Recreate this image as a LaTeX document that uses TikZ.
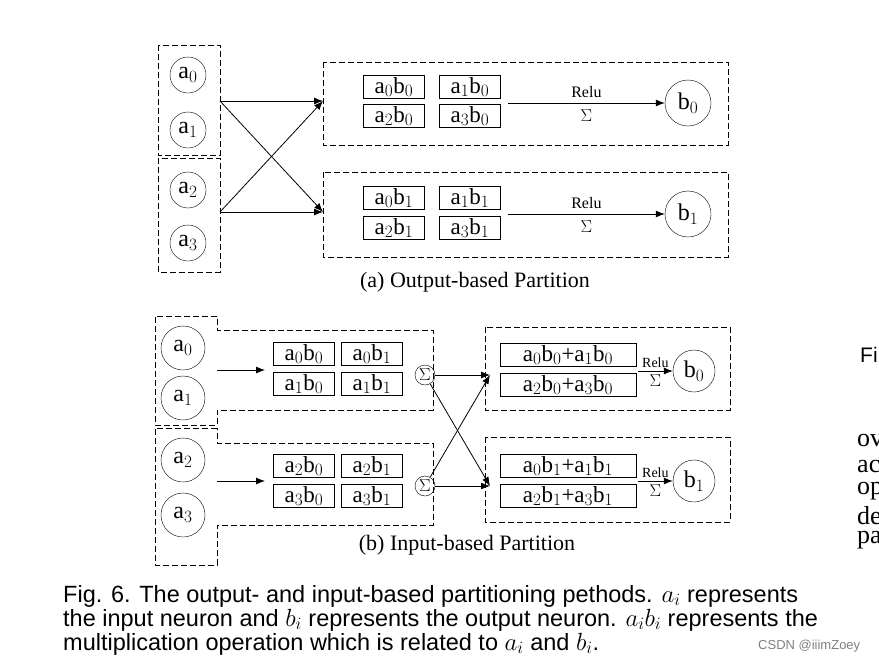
\documentclass[tikz,border=0pt]{standalone}
\usepackage{fontspec}
\setmainfont{Liberation Serif}
\newfontfamily\sansf{Liberation Sans}
\usetikzlibrary{arrows.meta}
\begin{document}
\begin{tikzpicture}[x=1pt,y=-1pt,
  neur/.style={draw,circle,minimum size=44pt,inner sep=0pt,font=\fontsize{24}{24}\selectfont},
  outn/.style={draw,circle,minimum size=48pt,inner sep=0pt,font=\fontsize{24}{24}\selectfont},
  prod/.style={draw,minimum width=61pt,minimum height=23pt,inner sep=0pt,font=\fontsize{23}{23}\selectfont},
  wprod/.style={draw,minimum width=136pt,minimum height=23pt,inner sep=0pt,font=\fontsize{23}{23}\selectfont},
  sig/.style={draw,circle,minimum size=20pt,inner sep=0pt,font=\fontsize{16}{16}\selectfont},
  dbox/.style={draw,dashed,line width=0.8pt,dash pattern=on 6pt off 3pt},
  arr/.style={-{Latex[length=9pt,width=7pt]},line width=0.8pt},
  lbl/.style={font=\fontsize{16}{16}\selectfont},
  figcap/.style={font=\fontsize{22}{22}\selectfont}]
\useasboundingbox (0,0) rectangle (879,664);
\clip (0,0) rectangle (879,664);
% (a)
\draw[dbox] (158,45) rectangle (220,155);
\draw[dbox] (158,158) rectangle (220,272);
\draw[dbox] (323,62) rectangle (728,145);
\draw[dbox] (323,172) rectangle (728,257);
\node[neur,minimum size=36pt] (a0) at (188,75) {a$_0$};
\node[neur,minimum size=36pt] (a1) at (188,130) {a$_1$};
\node[neur,minimum size=36pt] (a2) at (188,190) {a$_2$};
\node[neur,minimum size=36pt] (a3) at (188,243) {a$_3$};
\coordinate (la) at (220,101); \coordinate (lb) at (220,212);
\coordinate (ra) at (323,101); \coordinate (rb) at (323,212);
\draw[arr] (la) -- (ra); \draw[arr] (la) -- (rb);
\draw[arr] (lb) -- (ra); \draw[arr] (lb) -- (rb);
\node[prod] (p00) at (394,87) {a$_0$b$_0$};
\node[prod] (p10) at (470,87) {a$_1$b$_0$};
\node[prod] (p20) at (394,116) {a$_2$b$_0$};
\node[prod] (p30) at (470,116) {a$_3$b$_0$};
\node[prod] (p01) at (394,198) {a$_0$b$_1$};
\node[prod] (p11) at (470,198) {a$_1$b$_1$};
\node[prod] (p21) at (394,228) {a$_2$b$_1$};
\node[prod] (p31) at (470,228) {a$_3$b$_1$};
\node[outn,minimum size=46pt] (b0) at (688,103) {b$_0$};
\node[outn,minimum size=46pt] (b1) at (688,214) {b$_1$};
\coordinate (sa) at (508,103); \coordinate (sb) at (508,214);
\draw[arr] (sa) -- (b0) node[midway,above=2pt,lbl]{Relu} node[midway,below=3pt,lbl]{$\Sigma$};
\draw[arr] (sb) -- (b1) node[midway,above=2pt,lbl]{Relu} node[midway,below=3pt,lbl]{$\Sigma$};
\node[figcap] at (475,282) {(a) Output-based Partition};
% (b)
\draw[dbox] (217,316) -- (155,316) -- (155,425) -- (217,425) -- (217,410) -- (433,410) -- (433,330) -- (217,330) -- cycle;
\draw[dbox] (217,428) -- (155,428) -- (155,565) -- (217,565) -- (217,525) -- (433,525) -- (433,443) -- (217,443) -- cycle;
\draw[dbox] (485,327) rectangle (730,410);
\draw[dbox] (485,437) rectangle (730,522);
\node[neur] (c0) at (183,348) {a$_0$};
\node[neur] (c1) at (183,398) {a$_1$};
\node[neur] (c2) at (183,460) {a$_2$};
\node[neur] (c3) at (183,515) {a$_3$};
\coordinate (ia) at (217,370); \coordinate (ja) at (265,370);
\coordinate (ib) at (217,481); \coordinate (jb) at (265,481);
\draw[arr] (ia) -- (ja); \draw[arr] (ib) -- (jb);
\node[prod] (q00) at (304,354) {a$_0$b$_0$};
\node[prod] (q01) at (372,354) {a$_0$b$_1$};
\node[prod] (q10) at (304,384) {a$_1$b$_0$};
\node[prod] (q11) at (372,384) {a$_1$b$_1$};
\node[prod] (q20) at (304,466) {a$_2$b$_0$};
\node[prod] (q21) at (372,466) {a$_2$b$_1$};
\node[prod] (q30) at (304,496) {a$_3$b$_0$};
\node[prod] (q31) at (372,496) {a$_3$b$_1$};
\node[sig] (s0) at (425,375) {$\Sigma$};
\node[sig] (s1) at (425,486) {$\Sigma$};
\coordinate (ta) at (490,375); \coordinate (tb) at (490,486);
\draw[arr] (s0) -- (ta); \draw[arr] (s1) -- (tb);
\draw[arr] (s0) -- (tb); \draw[arr] (s1) -- (ta);
\node[wprod] (w0) at (568,355) {a$_0$b$_0$+a$_1$b$_0$};
\node[wprod] (w1) at (568,385) {a$_2$b$_0$+a$_3$b$_0$};
\node[wprod] (w2) at (568,466) {a$_0$b$_1$+a$_1$b$_1$};
\node[wprod] (w3) at (568,496) {a$_2$b$_1$+a$_3$b$_1$};
\node[outn,minimum size=42pt] (d0) at (694,371) {b$_0$};
\node[outn,minimum size=42pt] (d1) at (694,481) {b$_1$};
\coordinate (ua) at (638,371); \coordinate (ub) at (638,481);
\draw[arr] (ua) -- (d0) node[midway,above=0pt,lbl,font=\fontsize{14}{14}\selectfont]{Relu} node[midway,below=0pt,lbl]{$\Sigma$};
\draw[arr] (ub) -- (d1) node[midway,above=0pt,lbl,font=\fontsize{14}{14}\selectfont]{Relu} node[midway,below=0pt,lbl]{$\Sigma$};
\node[figcap] at (467,545) {(b) Input-based Partition};
% caption
\node[anchor=west,font=\sansf\fontsize{23.5}{23.5}\selectfont,inner sep=0pt] at (63,596) {Fig. 6. The output- and input-based partitioning pethods. $a_i$ represents};
\node[anchor=west,font=\sansf\fontsize{23.5}{23.5}\selectfont,inner sep=0pt] at (63,620) {the input neuron and $b_i$ represents the output neuron. $a_ib_i$ represents the};
\node[anchor=west,font=\sansf\fontsize{23.5}{23.5}\selectfont,inner sep=0pt] at (63,644) {multiplication operation which is related to $a_i$ and $b_i$.};
\node[anchor=west,font=\sansf\fontsize{13}{13}\selectfont,text=gray,inner sep=0pt] at (758,646) {CSDN @iiimZoey};
% right margin fragments (cut off at page edge)
\node[anchor=west,font=\sansf\fontsize{21}{21}\selectfont,inner sep=0pt] at (860,355) {Fi};
\foreach \t/\yy in {ov/440,ac/466,op/491,de/516,pa/540}
  \node[anchor=west,font=\fontsize{26}{26}\selectfont,inner sep=0pt] at (857,\yy) {\t};
\end{tikzpicture}
\end{document}
